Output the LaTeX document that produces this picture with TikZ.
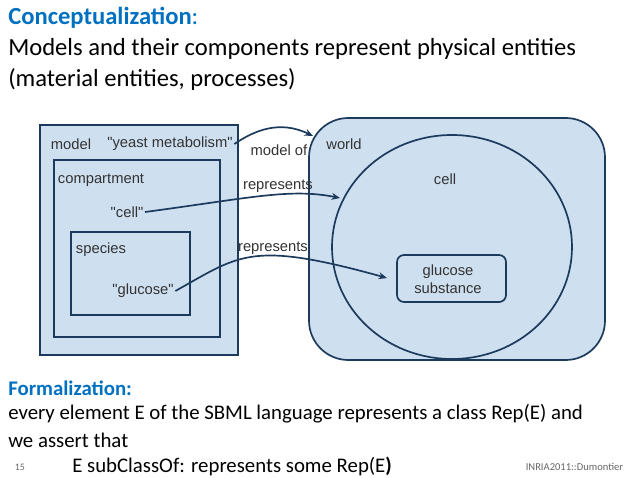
\documentclass[tikz,border=0pt]{standalone}
\usepackage{fontspec}
\setmainfont{Carlito}
\newfontfamily\diag{Liberation Sans}
\usetikzlibrary{arrows.meta}
\definecolor{titleblue}{RGB}{0,112,192}
\definecolor{boxfill}{RGB}{206,223,240}
\definecolor{boxedge}{RGB}{28,58,92}
\begin{document}
\begin{tikzpicture}[x=0.025cm,y=-0.025cm,
  box/.style={draw=boxedge,fill=boxfill,line width=1.2pt},
  lbl/.style={font=\diag\fontsize{10.5}{12}\selectfont,text=black!80,inner sep=1pt},
  rel/.style={draw=boxedge,line width=1.2pt,-{Stealth[length=6pt,width=5pt]}},
  body/.style={font=\fontsize{17.5}{20}\selectfont,anchor=west,inner sep=0pt},
  foot/.style={font=\fontsize{14.8}{18}\selectfont,anchor=west,inner sep=0pt}]
\useasboundingbox (0,0) rectangle (638,478);
% text
\node[body] (t1) at (8,18) {\textcolor{titleblue}{\textbf{Conceptualization}:}};
\node[body] (t2) at (8,49) {Models and their components represent physical entities};
\node[body] (t3) at (8,79) {(material entities, processes)};
\node[foot] (f1) at (8,388) {\textcolor{titleblue}{\textbf{Formalization:}}};
\node[foot] (f2) at (8,414) {every element E of the SBML language represents a class Rep(E) and};
\node[foot] (f3) at (8,440) {we assert that};
\node[foot] (f4) at (72,466) {E subClassOf: represents some Rep(E\textbf{)}};
\node[anchor=west,font=\fontsize{7}{8}\selectfont,text=black!60] (pg) at (10,467) {15};
\node[anchor=east,font=\fontsize{7.5}{9}\selectfont,text=black!60] (cr) at (628,467) {INRIA2011::Dumontier};
% model side
\draw[box] (40,125) rectangle (238,355);
\draw[box] (54,160) rectangle (220,337);
\draw[box] (71,232) rectangle (190,315);
% world side
\draw[box,rounded corners=28] (309,118) rectangle (605,360);
\draw[box,fill=none] (452,247) ellipse (120 and 112);
\draw[box,rounded corners=5] (397,255) rectangle (506,302);
% labels
\node[lbl] (model) at (71,144) {model};
\node[lbl] (yeast) at (170,144) {"yeast metabolism"};
\node[lbl] (comp) at (101,180) {compartment};
\node[lbl] (cellq) at (127,212) {"cell"};
\node[lbl] (spec) at (101,250) {species};
\node[lbl] (gluq) at (143,291) {"glucose"};
\node[lbl] (world) at (344,144) {world};
\node[lbl] (cell) at (445,179) {cell};
\node[lbl,align=center,font=\diag\fontsize{10.5}{13}\selectfont] (glu) at (448,279) {glucose\\substance};
\node[lbl] (mof) at (279,150) {model of};
\node[lbl] (rep1) at (278,186) {represents};
\node[lbl] (rep2) at (273,248) {represents};
\coordinate (wtip) at (313,136);
\coordinate (ctip) at (340,198);
\coordinate (gtip) at (387,278);
% connectors
\draw[rel] (yeast.east) .. controls (255,130) and (280,120) .. (wtip);
\draw[rel] (cellq.east) .. controls (250,198) and (290,188) .. (ctip);
\draw[rel] (gluq.east) .. controls (240,255) and (250,240) .. (gtip);
\end{tikzpicture}
\end{document}
